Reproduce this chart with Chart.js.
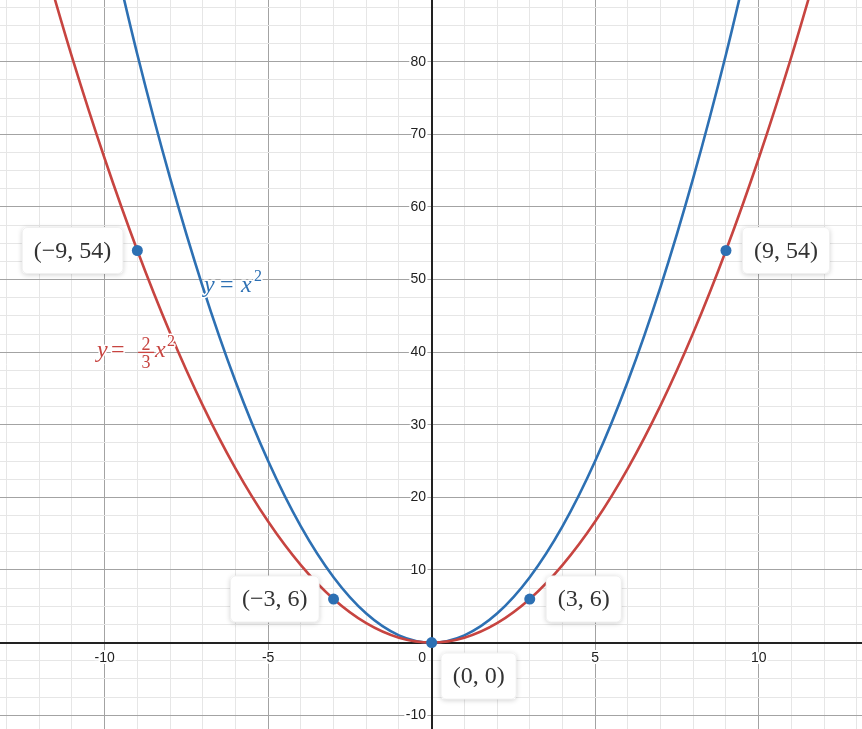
<!DOCTYPE html>
<html>
<head>
<meta charset="utf-8">
<script src="https://cdn.jsdelivr.net/npm/chart.js@4.4.0/dist/chart.umd.min.js"></script>
<style>
    html, body { margin: 0; padding: 0; background: #fff; }
    #wrap { width: 862px; height: 729px; position: relative; }
</style>
</head>
<body>
<div id="wrap"><canvas id="graph"></canvas></div>
<script>
/* 그림에서 읽은 값들 */
const blueX = [-10, -9, -8, -7, -6, -5, -4, -3, -2, -1, 0, 1, 2, 3, 4, 5, 6, 7, 8, 9, 10];
const blueY = [100, 81, 64, 49, 36, 25, 16, 9, 4, 1, 0, 1, 4, 9, 16, 25, 36, 49, 64, 81, 100];
const redX  = [-12, -11, -10, -9, -8, -7, -6, -5, -4, -3, -2, -1, 0, 1, 2, 3, 4, 5, 6, 7, 8, 9, 10, 11, 12];
const redY  = [96, 80.67, 66.67, 54, 42.67, 32.67, 24, 16.67, 10.67, 6, 2.67, 0.67, 0,
               0.67, 2.67, 6, 10.67, 16.67, 24, 32.67, 42.67, 54, 66.67, 80.67, 96];
const pointX = [-9, -3, 0, 3, 9];
const pointY = [54, 6, 0, 6, 54];
const pointLabels = ['(−9, 54)', '(−3, 6)', '(0, 0)', '(3, 6)', '(9, 54)'];
const xTickLabels = [-10, -5, 5, 10];
const yTickLabels = [-10, 10, 20, 30, 40, 50, 60, 70, 80];

const BLUE = '#2d70b3';
const RED = '#c74440';
const SERIF = '"Liberation Serif", "DejaVu Serif", serif';
const SANS = '"Liberation Sans", Arial, sans-serif';

const toXY = (xs, ys) => xs.map((x, i) => ({ x: x, y: ys[i] }));

// 흰 테두리(halo) 텍스트
function haloText(ctx, txt, x, y, width) {
    ctx.save();
    ctx.lineJoin = 'round';
    ctx.strokeStyle = '#fff';
    ctx.lineWidth = width || 4;
    ctx.strokeText(txt, x, y);
    ctx.restore();
    ctx.fillText(txt, x, y);
}

function gridStyle(major) {
    return {
        drawTicks: false,
        color: c => Math.abs(c.tick.value % major) < 1e-6 ? '#a3a3a3' : '#e6e6e6',
        lineWidth: 1
    };
}

// 축선 + 눈금 라벨: 축선 옆에 그림
const axisLabels = {
    id: 'axisLabels',
    beforeDatasetsDraw(chart) {
        const { ctx, chartArea: a, scales: { x, y } } = chart;
        const ox = Math.round(x.getPixelForValue(0)), oy = Math.round(y.getPixelForValue(0));
        ctx.save();
        ctx.strokeStyle = '#222';
        ctx.lineWidth = 2;
        ctx.beginPath();
        ctx.moveTo(a.left, oy); ctx.lineTo(a.right, oy);
        ctx.moveTo(ox, a.top); ctx.lineTo(ox, a.bottom);
        ctx.stroke();

        ctx.font = '14px ' + SANS;
        ctx.fillStyle = '#222';
        ctx.textBaseline = 'middle';
        ctx.textAlign = 'center';
        xTickLabels.forEach(v => haloText(ctx, String(v), x.getPixelForValue(v), oy + 15));
        ctx.textAlign = 'right';
        yTickLabels.forEach(v => haloText(ctx, String(v), ox - 6, y.getPixelForValue(v)));
        haloText(ctx, '0', ox - 6, oy + 15);
        ctx.restore();
    }
};

// 점 라벨 박스 + 곡선 라벨
const annotations = {
    id: 'annotations',
    afterDatasetsDraw(chart) {
        const { ctx, scales: { x, y } } = chart;
        const side = ['left', 'left', 'below', 'right', 'right'];

        ctx.save();
        ctx.font = '24px ' + SERIF;
        pointLabels.forEach((txt, i) => {
            const px = x.getPixelForValue(pointX[i]);
            const py = y.getPixelForValue(pointY[i]);
            const w = ctx.measureText(txt).width + 24;
            const h = 47;
            let bx, by;
            if (side[i] === 'left') { bx = px - 14 - w; by = py - h / 2; }
            else if (side[i] === 'right') { bx = px + 16; by = py - h / 2; }
            else { bx = px + 9; by = py + 10; }

            ctx.save();
            ctx.shadowColor = 'rgba(0,0,0,0.18)';
            ctx.shadowBlur = 5;
            ctx.shadowOffsetY = 1;
            ctx.fillStyle = '#fff';
            ctx.beginPath();
            ctx.roundRect(bx, by, w, h, 5);
            ctx.fill();
            ctx.restore();
            ctx.strokeStyle = 'rgba(0,0,0,0.06)';
            ctx.lineWidth = 1;
            ctx.beginPath();
            ctx.roundRect(bx + 0.5, by + 0.5, w - 1, h - 1, 5);
            ctx.stroke();

            ctx.fillStyle = '#333';
            ctx.textAlign = 'center';
            ctx.textBaseline = 'middle';
            ctx.fillText(txt, bx + w / 2, by + h / 2 + 1);
        });

        // y = x^2
        let ax = x.getPixelForValue(-6.96), ay = y.getPixelForValue(48.3);
        ctx.fillStyle = BLUE;
        ctx.textAlign = 'left';
        ctx.textBaseline = 'alphabetic';
        ctx.font = 'italic 24px ' + SERIF;
        haloText(ctx, 'y', ax, ay, 3);
        ctx.font = '24px ' + SERIF;
        haloText(ctx, '=', ax + 16, ay, 3);
        ctx.font = 'italic 24px ' + SERIF;
        haloText(ctx, 'x', ax + 37, ay, 3);
        ctx.font = '16px ' + SERIF;
        haloText(ctx, '2', ax + 50, ay - 11, 3);

        // y = 2/3 x^2
        ax = x.getPixelForValue(-10.23); ay = y.getPixelForValue(39.3);
        ctx.fillStyle = RED;
        ctx.font = 'italic 24px ' + SERIF;
        haloText(ctx, 'y', ax, ay, 3);
        ctx.font = '24px ' + SERIF;
        haloText(ctx, '=', ax + 14, ay, 3);
        ctx.font = '18px ' + SERIF;
        ctx.textAlign = 'center';
        haloText(ctx, '2', ax + 49, ay - 7, 3);
        haloText(ctx, '3', ax + 49, ay + 11, 3);
        ctx.fillRect(ax + 41, ay - 5.5, 16, 1.3);
        ctx.textAlign = 'left';
        ctx.font = 'italic 24px ' + SERIF;
        haloText(ctx, 'x', ax + 58, ay, 3);
        ctx.font = '16px ' + SERIF;
        haloText(ctx, '2', ax + 70, ay - 11, 3);
        ctx.restore();
    }
};

new Chart(document.getElementById('graph').getContext('2d'), {
    type: 'scatter',
    data: {
        datasets: [
            {
                label: 'points',
                data: toXY(pointX, pointY),
                pointRadius: 5.5,
                pointBackgroundColor: BLUE,
                pointBorderWidth: 0,
                showLine: false
            },
            {
                label: 'y = 2/3 x²',
                data: toXY(redX, redY),
                showLine: true,
                borderColor: RED,
                borderWidth: 2.6,
                pointRadius: 0,
                cubicInterpolationMode: 'monotone'
            },
            {
                label: 'y = x²',
                data: toXY(blueX, blueY),
                showLine: true,
                borderColor: BLUE,
                borderWidth: 2.6,
                pointRadius: 0,
                cubicInterpolationMode: 'monotone'
            }
        ]
    },
    options: {
        responsive: true,
        maintainAspectRatio: false,
        animation: false,
        events: [],
        layout: { padding: 0, autoPadding: false },
        plugins: { legend: { display: false }, tooltip: { enabled: false } },
        scales: {
            x: {
                type: 'linear',
                min: -13.2,
                max: 13.16,
                ticks: { display: false, stepSize: 1, includeBounds: false },
                grid: gridStyle(5),
                border: { display: false }
            },
            y: {
                type: 'linear',
                min: -11.9,
                max: 88.5,
                ticks: { display: false, stepSize: 2.5, includeBounds: false },
                grid: gridStyle(10),
                border: { display: false }
            }
        }
    },
    plugins: [axisLabels, annotations]
});
</script>
</body>
</html>
